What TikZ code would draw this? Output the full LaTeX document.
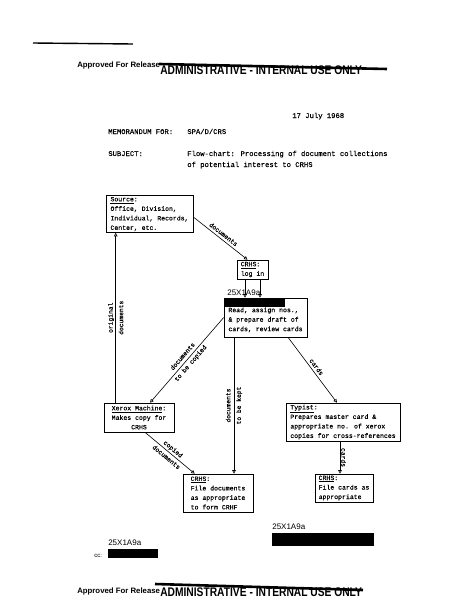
\documentclass[tikz,border=0pt]{standalone}
\usepackage{fontspec}
\usepackage{graphicx}
\setmainfont{Liberation Mono}[FakeBold=0.3]
\newfontfamily\stampfont{Liberation Sans}
\usetikzlibrary{arrows.meta,positioning}

\begin{document}
\begin{tikzpicture}[x=1pt, y=-1pt, line width=0.6pt, >={Triangle[open,length=3.5pt,width=3.5pt]},
box node/.style={draw, align=left, inner sep=1.5pt, font=\fontsize{6.5}{9.5}\selectfont},
black box/.style={fill=black, inner sep=0pt, anchor=north west},
code label/.style={font=\stampfont\fontsize{8}{8}\selectfont, inner sep=0pt, anchor=base west},
release/.style={font=\stampfont\bfseries\fontsize{7.8}{8}\selectfont, inner sep=0pt, anchor=base west},
stamp/.style={font=\stampfont\bfseries\fontsize{12.5}{13}\selectfont, inner sep=0pt, anchor=base west},
memo/.style={font=\fontsize{7.2}{11}\selectfont, inner sep=0pt, anchor=base west},
flow label/.style={font=\fontsize{6.3}{10.5}\selectfont, align=center, inner sep=1pt}]
\useasboundingbox (0,0) rectangle (474,613);
%header and footer of the page
\begin{scope}
\draw[line width=1.4pt] (33,43) -- (133,44);
\node[release] (reltop) at (77,67) {Approved For Release};
\node[stamp] (stamptop) at (160,74) {\scalebox{0.82}[1]{ADMINISTRATIVE - INTERNAL USE ONLY}};
\draw[line width=2.6pt] (159,64) -- (387,69);
\node[memo] (date) at (292,118) {17 July 1968};
\node[memo] (memofor) at (108,134) {MEMORANDUM FOR:};
\node[memo] (memoto) at (187,134) {SPA/D/CRS};
\node[memo] (subj) at (108,156) {SUBJECT:};
\node[memo] (subj1) at (187,156) {Flow-chart:  Processing of document collections};
\node[memo] (subj2) at (187,167) {of potential interest to CRHS};
\node[code label] (code2) at (272,529) {25X1A9a};
\node[black box, minimum width=102pt, minimum height=13pt] (red2) at (272,533) {};
\node[code label] (code3) at (108,545) {25X1A9a};
\node[font=\stampfont\fontsize{6}{6}\selectfont, inner sep=0pt, anchor=base west] (cc) at (94,557) {cc:};
\node[black box, minimum width=50pt, minimum height=9pt] (red3) at (108,549) {};
\node[release] (relbot) at (77,593) {Approved For Release};
\node[stamp] (stampbot) at (160,596) {\scalebox{0.82}[1]{ADMINISTRATIVE - INTERNAL USE ONLY}};
\draw[line width=2.6pt] (155,584) -- (363,590);
\end{scope}
%flow chart boxes
\begin{scope}
\node[box node, minimum width=87pt, minimum height=36pt] (src) at (149.5,214) {\underline{Source}:\\Office,  Division,\\Individual, Records,\\Center, etc.};
\node[box node, minimum width=31pt, minimum height=19pt] (login) at (252.5,269.5) {\underline{CRHS}:\\log in};
\node[box node, minimum width=83pt, minimum height=39pt] (main) at (265.5,317.5) {\mbox{}\\Read, assign nos.,\\\& prepare draft of\\cards, review cards};
\node[black box, minimum width=60pt, minimum height=8pt] (mainred) at ([xshift=1pt,yshift=-0.5pt]main.north west) {};
\node[code label] (code1) at (227,295) {25X1A9a};
\node[box node, align=center, minimum width=70pt, minimum height=29pt] (xerox) at (139,417.5) {\underline{Xerox Machine}:\\Makes copy for\\CRHS};
\node[box node, minimum width=70pt, minimum height=38pt] (filedocs) at (218,493) {\underline{CRHS}:\\File documents\\as appropriate\\to form CRHF};
\node[box node, minimum width=114pt, minimum height=38pt] (typist) at (343,422) {\underline{Typist}:\\Prepares master card \&\\appropriate no. of xerox\\copies for cross-references};
\node[box node, minimum width=58pt, minimum height=28pt] (filecards) at (344,488) {\underline{CRHS}:\\File cards as\\appropriate};
\end{scope}
%flow chart arrows
\begin{scope}
\draw[->] ([yshift=-3pt]src.east) -- node[flow label, sloped, above=1.5pt]{documents} ([xshift=-5pt]login.north);
\draw[->] ([xshift=-7.5pt]login.south) -- ([xshift=-7.5pt]login.south |- main.north);
\draw[->] ([xshift=7.5pt]login.south) -- ([xshift=7.5pt]login.south |- main.north);
\draw[->] (main.west) -- node[flow label, sloped]{documents\\to be copied} ([xshift=11pt]xerox.north);
\draw[->] ([xshift=-31.5pt]main.south) -- node[flow label, rotate=90]{documents\\to be kept} ([xshift=-31.5pt]main.south |- filedocs.north);
\draw[->] ([xshift=22.5pt]main.south) -- node[flow label, sloped, above=1.5pt]{cards} ([xshift=-6pt]typist.north);
\draw[->] ([xshift=6pt]xerox.south) -- node[flow label, sloped]{copied\\documents} ([xshift=12pt]filedocs.north west);
\draw[->] ([xshift=-3pt]typist.south) -- node[flow label, rotate=-90, anchor=south]{cards} ([xshift=-3pt]typist.south |- filecards.north);
\draw[->] ([xshift=12pt]xerox.north west) -- node[flow label, sloped]{original\\documents} ([xshift=12pt]xerox.north west |- src.south);
\end{scope}
\end{tikzpicture}
\end{document}
